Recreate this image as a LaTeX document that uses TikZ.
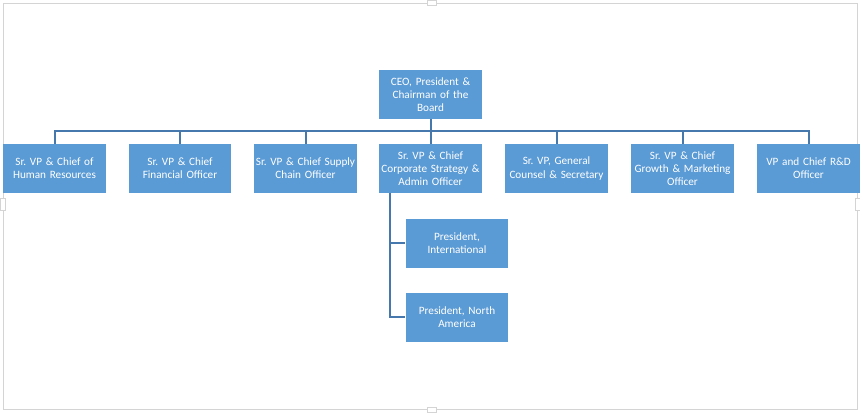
\documentclass[tikz,border=0pt]{standalone}
\usepackage{fontspec}
\setmainfont{Carlito}
\frenchspacing
\begin{document}
\begin{tikzpicture}[x=0.75pt,y=-0.75pt,
  box/.style={fill=boxblue,draw=none,text=white,minimum width=101*0.75pt,minimum height=49*0.75pt,
    inner sep=1pt,align=center,font=\fontsize{8.4}{9.8}\selectfont,text width=100*0.75pt},
  link/.style={draw=lineblue,line width=1.5pt},
  frame/.style={draw=framegray,line width=0.6pt}]
\definecolor{boxblue}{HTML}{5B9BD5}
\definecolor{lineblue}{HTML}{4678AE}
\definecolor{framegray}{HTML}{D4D4D4}
\useasboundingbox (0,0) rectangle (860,412);
\draw[frame] (3,3) rectangle (857,409);
\draw[frame,fill=white] (427,0) rectangle (436,5);
\draw[frame,fill=white] (427,407) rectangle (436,412);
\draw[frame,fill=white] (0,198) rectangle (5,210);
\draw[frame,fill=white] (855,198) rectangle (860,210);

\node[box] (ceo) at (430.5,94.5) {CEO, President \&\\Chairman of the\\Board};
\node[box] (c1) at (54.5,168.5) {Sr. VP \& Chief of\\Human Resources};
\node[box] (c2) at (180,168.5) {Sr. VP \& Chief\\Financial Officer};
\node[box] (c3) at (305.5,168.5) {Sr. VP \& Chief Supply\\Chain Officer};
\node[box] (c4) at (430.5,168.5) {Sr. VP \& Chief\\Corporate Strategy \&\\Admin Officer};
\node[box] (c5) at (556.5,168.5) {Sr. VP, General\\Counsel \& Secretary};
\node[box] (c6) at (682.5,168.5) {Sr. VP \& Chief\\Growth \& Marketing\\Officer};
\node[box] (c7) at (808.5,168.5) {VP and Chief R\&D\\Officer};
\node[box] (s1) at (457,243) {President,\\International};
\node[box] (s2) at (457,317) {President, North\\America};

\coordinate (bus) at (0,131);
\draw[link] (ceo.south) -- (ceo.south |- bus);
\draw[link] (c1.north) -- (c1.north |- bus) -- (c7.north |- bus) -- (c7.north);
\foreach \c in {c2,c3,c4,c5,c6}
  \draw[link] (\c.north) -- (\c.north |- bus);
\coordinate (trunk) at (390,0);
\draw[link] (c4.south -| trunk) -- (trunk |- s2.west) -- (s2.west);
\draw[link] (trunk |- s1.west) -- (s1.west);
\end{tikzpicture}
\end{document}
